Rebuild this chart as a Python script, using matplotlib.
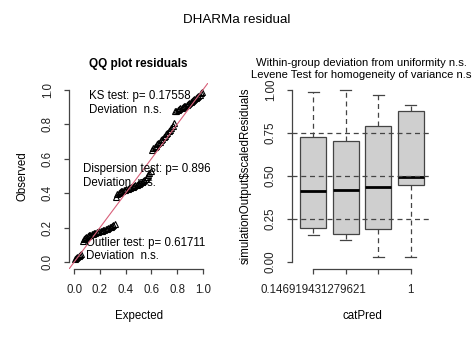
import matplotlib
matplotlib.use('Agg')
import matplotlib.pyplot as plt
import numpy as np

plt.rcParams['font.family'] = ['Liberation Sans', 'DejaVu Sans']

# QQ plot: sorted scaled residuals (observed)
observed = [
    0.020, 0.024, 0.028, 0.033, 0.040, 0.048,
    0.125, 0.135, 0.142, 0.147, 0.151, 0.155, 0.158, 0.161, 0.164, 0.167,
    0.170, 0.172, 0.175, 0.178, 0.180, 0.183, 0.186, 0.189, 0.192, 0.195,
    0.198, 0.202, 0.206, 0.210, 0.215, 0.222,
    0.380, 0.395, 0.402, 0.407, 0.411, 0.415, 0.418, 0.421, 0.424, 0.427,
    0.430, 0.433, 0.436, 0.439, 0.442, 0.445, 0.448, 0.451, 0.455, 0.459,
    0.464, 0.470, 0.477, 0.485, 0.495, 0.505, 0.517, 0.530,
    0.650, 0.660, 0.668, 0.676, 0.684, 0.692, 0.700, 0.708, 0.716, 0.724,
    0.733, 0.742, 0.751, 0.760, 0.770, 0.780, 0.792, 0.805,
    0.875, 0.880, 0.885, 0.889, 0.893, 0.897, 0.901, 0.905, 0.909, 0.913,
    0.918, 0.923, 0.928, 0.933, 0.939, 0.945, 0.951, 0.958, 0.965, 0.972,
    0.980, 0.990,
]
test_labels = [
    "KS test: p= 0.17558\nDeviation  n.s.",
    "Dispersion test: p= 0.896\nDeviation  n.s.",
    "Outlier test: p= 0.61711\nDeviation  n.s.",
]

# boxplot per catPred group
groups = ["0.146919431279621", "", "", "1"]
whis_lo = [0.159, 0.128, 0.030, 0.030]
q1 = [0.197, 0.164, 0.194, 0.445]
med = [0.412, 0.420, 0.437, 0.495]
q3 = [0.725, 0.702, 0.791, 0.876]
whis_hi = [0.986, 0.998, 0.973, 0.915]
ref_lines = [0.25, 0.5, 0.75]

W, H = 474, 338
fig = plt.figure(figsize=(W / 100, H / 100), dpi=100)
axc = '#444444'
fs = 8.3


def r_axes(ax, xb, yb):
    for s in ['top', 'right']:
        ax.spines[s].set_visible(False)
    ax.spines['left'].set_bounds(*yb)
    ax.spines['bottom'].set_bounds(*xb)
    for s in ['left', 'bottom']:
        ax.spines[s].set_color(axc)
        ax.spines[s].set_linewidth(0.9)
    ax.tick_params(length=3.6, width=0.9, color=axc, labelsize=fs, pad=7.3,
                   labelcolor='#222222')
    for lab in ax.get_yticklabels():
        lab.set_rotation(90)
        lab.set_va('center')


# ---- left: QQ plot
ax1 = fig.add_axes([69 / W, 1 - 269 / H, 139 / W, 186 / H])
n = len(observed)
expected = (np.arange(1, n + 1) - 0.5) / n
ax1.plot(expected, observed, linestyle='none', marker='^', markersize=5,
         markerfacecolor='none', markeredgecolor='black', markeredgewidth=0.8)
ax1.axline((0, 0), slope=1, color='#d9607a', lw=0.8, zorder=3)
ax1.set_xlim(-0.04, 1.04)
ax1.set_ylim(-0.04, 1.04)
ticks = [0, 0.2, 0.4, 0.6, 0.8, 1.0]
ax1.set_xticks(ticks)
ax1.set_xticklabels([f"{t:.1f}" for t in ticks])
ax1.set_yticks(ticks)
ax1.set_yticklabels([f"{t:.1f}" for t in ticks])
r_axes(ax1, (0, 1), (0, 1))
text_pos = [(0.116, 0.925), (0.072, 0.50), (0.095, 0.073)]
for (tx, ty), t in zip(text_pos, test_labels):
    ax1.text(tx, ty, t, fontsize=fs, va='center', ha='left', linespacing=1.2, zorder=4)

# ---- right: boxplot
ax2 = fig.add_axes([292 / W, 1 - 269 / H, 140 / W, 186 / H])
stats = [dict(whislo=a, q1=b, med=c, q3=d, whishi=e)
         for a, b, c, d, e in zip(whis_lo, q1, med, q3, whis_hi)]
ax2.bxp(stats, positions=range(1, len(stats) + 1), widths=0.8, showfliers=False,
        patch_artist=True,
        boxprops=dict(facecolor='#cfcfcf', edgecolor='#444444', linewidth=0.9),
        medianprops=dict(color='black', linewidth=2.0),
        whiskerprops=dict(color='#444444', linewidth=0.9, linestyle=(0, (4, 3))),
        capprops=dict(color='#444444', linewidth=0.9), capwidths=0.35)
for yv in ref_lines:
    ax2.axhline(yv, color='#444444', lw=0.9, linestyle=(0, (4, 3)), zorder=5)
ax2.set_xlim(0.34, 4.66)
ax2.set_ylim(-0.04, 1.04)
ax2.set_xticks(range(1, len(groups) + 1))
ax2.set_xticklabels(groups)
yt = [0, 0.25, 0.5, 0.75, 1.0]
ax2.set_yticks(yt)
ax2.set_yticklabels([f"{t:.2f}" for t in yt])
r_axes(ax2, (1, 4), (0, 1))

# ---- texts
fig.text(237 / W, 1 - 20 / H, "DHARMa residual", fontsize=9.6, ha='center', va='center')
fig.text(138 / W, 1 - 64 / H, "QQ plot residuals", fontsize=8.5, fontweight='bold',
         ha='center', va='center')
fig.text(361 / W, 1 - 63 / H, "Within-group deviation from uniformity n.s.",
         fontsize=8.1, ha='center', va='center')
fig.text(361 / W, 1 - 75.5 / H, "Levene Test for homogeneity of variance n.s",
         fontsize=8.1, ha='center', va='center')
fig.text(139 / W, 1 - 316 / H, "Expected", fontsize=fs, ha='center', va='center')
fig.text(362 / W, 1 - 316 / H, "catPred", fontsize=fs, ha='center', va='center')
fig.text(23 / W, 1 - 176 / H, "Observed", fontsize=fs, ha='center', va='center', rotation=90)
fig.text(246 / W, 1 - 176 / H, "simulationOutput\\$scaledResiduals", fontsize=fs,
         ha='center', va='center', rotation=90)

fig.savefig('out.png', dpi=100)
